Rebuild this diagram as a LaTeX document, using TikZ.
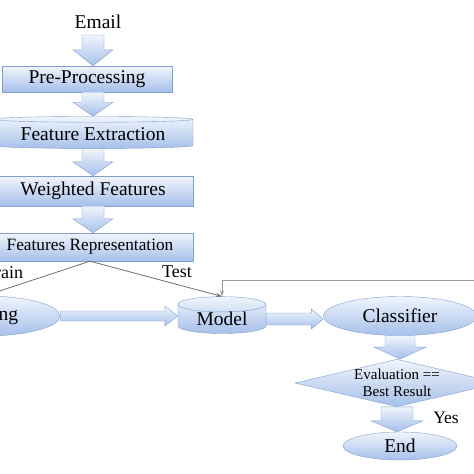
\documentclass[tikz,border=0pt]{standalone}
\usepackage{fontspec}
\setmainfont{Liberation Serif}
\usetikzlibrary{shapes.geometric,arrows.meta,calc}

\definecolor{filltop}{HTML}{F0F5FC}
\definecolor{fillbot}{HTML}{A6C0EA}
\definecolor{edgeblue}{HTML}{819FCF}
\definecolor{linegray}{HTML}{707070}

\tikzset{
  box/.style={draw=edgeblue, top color=filltop, bottom color=fillbot, inner sep=0pt},
  drum/.style={box, cylinder, shape border rotate=90, aspect=0.15},
  oval/.style={box, ellipse},
  decide/.style={box, diamond, aspect=4.3, align=center, font=\fontsize{15}{17}\selectfont},
  flow/.style={draw=edgeblue, top color=filltop, bottom color=fillbot, line join=miter},
  link/.style={draw=linegray, line width=0.8pt, -{Stealth[length=6pt,width=4pt]}},
  word/.style={inner sep=0pt},
}

% block arrows between two points
\newcommand{\blockdown}[5]{%
  \path[flow] let \p1=(#1), \p2=(#2) in
    (\x1-#3,\y1) -- (\x1+#3,\y1) -- (\x1+#3,\y2+#5) -- (\x1+#4,\y2+#5)
    -- (\x1,\y2) -- (\x1-#4,\y2+#5) -- (\x1-#3,\y2+#5) -- cycle;}
\newcommand{\blockright}[5]{%
  \path[flow] let \p1=(#1), \p2=(#2) in
    (\x1,\y1+#3) -- (\x2-#5,\y1+#3) -- (\x2-#5,\y1+#4) -- (\x2,\y1)
    -- (\x2-#5,\y1-#4) -- (\x2-#5,\y1-#3) -- (\x1,\y1-#3) -- cycle;}

\begin{document}
\begin{tikzpicture}[x=1pt, y=-1pt, font=\fontsize{19.5}{23}\selectfont]
  \useasboundingbox (0,0) rectangle (474,474);
  \clip (0,0) rectangle (474,474);
  \coordinate (axis) at (93,0);
  \coordinate (mailfoot) at (93,35);

  % left column
  \draw (98,22)   node (email)   [word] {Email};
  \draw (87,79)   node (pre)     [box, minimum width=170, minimum height=26] {Pre-Processing};
  \draw (93,134)  node (extract) [drum, aspect=0.04, minimum width=200, minimum height=32] {Feature Extraction};
  \draw (93,191)  node (weight)  [box, minimum width=200, minimum height=30] {Weighted Features};
  \draw (90,247)  node (repr)    [box, minimum width=206, minimum height=28,
                                  font=\fontsize{17.3}{20}\selectfont] {Features Representation};

  \blockdown{mailfoot}{axis |- pre.north}{11pt}{20pt}{16pt}
  \blockdown{axis |- pre.south}{axis |- extract.north}{11pt}{20pt}{14pt}
  \blockdown{axis |- extract.south}{axis |- weight.north}{11pt}{20pt}{14pt}
  \blockdown{axis |- weight.south}{axis |- repr.north}{11pt}{20pt}{14pt}

  % bottom row
  \draw (-15,316) node (train)    [oval, minimum width=150, minimum height=40] {Training};
  \draw (222,319) node (model)    [drum, aspect=0.3, minimum width=88, minimum height=34] {Model};
  \draw (400,316) node (classify) [oval, minimum width=153, minimum height=39] {Classifier};
  \draw (397,383) node (eval)     [decide] {Evaluation ==\\Best Result};
  \draw (400,446) node (finish)   [oval, minimum width=114, minimum height=28] {End};

  \blockright{train.east}{model.west}{5pt}{10pt}{13pt}
  \blockright{model.east}{classify.west}{6pt}{10pt}{12pt}
  \blockdown{classify.south}{eval.north}{15pt}{26pt}{12pt}
  \blockdown{eval.south}{finish.north}{16pt}{26pt}{11pt}

  % connectors
  \coordinate (loop) at (480,280);
  \draw[link] (repr.south) -- (train.north);
  \draw[link] (repr.south) -- (model.north);
  \draw[link, draw=linegray!70, line width=0.6pt] (loop) -| (model.north);

  \draw (4,273)   node (trainlbl) [word, font=\fontsize{18}{20}\selectfont] {Train};
  \draw (177,272) node (testlbl)  [word, font=\fontsize{18}{20}\selectfont] {Test};
  \draw (446,418) node (yeslbl)   [word, font=\fontsize{17.5}{20}\selectfont] {Yes};
\end{tikzpicture}
\end{document}
